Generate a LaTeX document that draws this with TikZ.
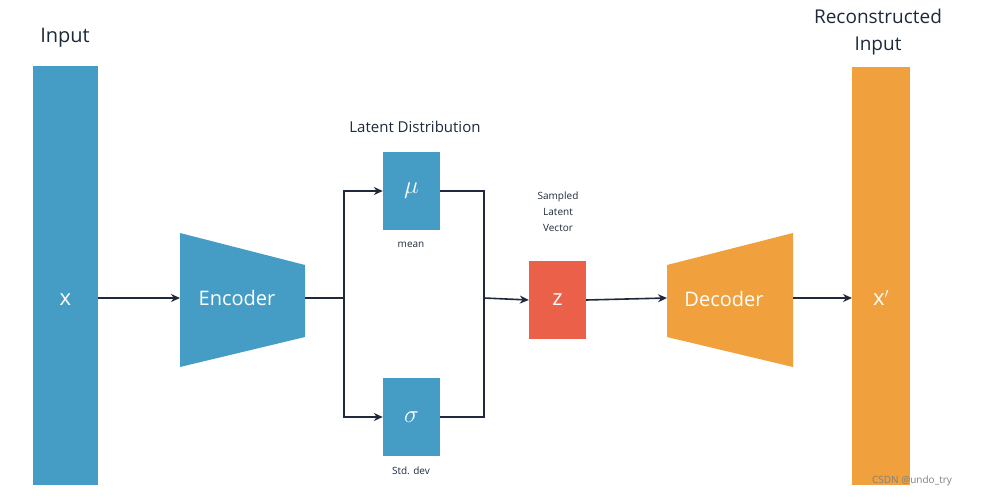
\documentclass[tikz,border=0pt]{standalone}
\usepackage{fontspec}
\setmainfont{Open Sans}
\usetikzlibrary{arrows.meta}
\definecolor{bl}{HTML}{459DC6}
\definecolor{org}{HTML}{F0A03C}
\definecolor{rd}{HTML}{EB6049}
\definecolor{ln}{HTML}{1E2A3A}
\begin{document}
\begin{tikzpicture}[x=1pt,y=-1pt,
  con/.style={draw=ln,line width=1.6pt},
  arr/.style={con,-{Stealth[length=9pt,width=8pt]}},
  wt/.style={text=white,font=\fontsize{22}{24}\selectfont},
  lbl/.style={text=ln,font=\fontsize{20}{24}\selectfont,align=center},
  sm/.style={text=ln,font=\fontsize{10}{13}\selectfont,align=center}]
\useasboundingbox (0,0) rectangle (981,498);
% bars
\fill[bl] (33,66) rectangle (98,485);
\node[wt] (x) at (65.5,300) {x};
\node[lbl] (inp) at (65,38) {Input};
\fill[org] (852,67) rectangle (910,485);
\node[wt] (xp) at (881,298) {x$'$};
\node[lbl,font=\fontsize{19}{27}\selectfont] (rec) at (878,32) {Reconstructed\\Input};
% encoder / decoder
\fill[bl] (180,233) -- (305,265) -- (305,337) -- (180,367) -- cycle;
\node[wt,font=\fontsize{20}{24}\selectfont] (enc) at (237,298) {Encoder};
\fill[org] (667,265) -- (793,233) -- (793,367) -- (667,337) -- cycle;
\node[wt,font=\fontsize{20}{24}\selectfont] (dec) at (724,299) {Decoder};
% latent boxes
\node[fill=bl,minimum width=57pt,minimum height=78pt,inner sep=0pt,text=white,font=\fontsize{24}{26}\selectfont] (mu) at (411.5,191) {$\mu$};
\node[fill=bl,minimum width=57pt,minimum height=78pt,inner sep=0pt,text=white,font=\fontsize{24}{26}\selectfont] (sg) at (411.5,417) {$\sigma$};
\node[fill=rd,minimum width=57pt,minimum height=78pt,inner sep=0pt,wt] (z) at (557.5,300) {z};
\node[lbl,font=\fontsize{15}{18}\selectfont] (ld) at (415,127) {Latent Distribution};
\node[sm] (mean) at (411,245) {mean};
\node[sm] (sd) at (411,471) {Std. dev};
\node[sm,font=\fontsize{10}{16}\selectfont] (slv) at (558,212) {Sampled\\Latent\\Vector};
\node[text=gray,font=\fontsize{10}{12}\selectfont] (wm) at (912,481) {CSDN @undo\_try};
% coordinates
\coordinate (encR) at (305,298);
\coordinate (decL) at (667,298);
\coordinate (decR) at (793,298);
\coordinate (br) at (344,298);
\coordinate (mg) at (484,298);
% connectors
\draw[arr] (98,298) -- (180,298);
\draw[con] (encR) -- (br);
\draw[arr] (br) |- (mu.west);
\draw[arr] (br) |- (sg.west);
\draw[con] (mu.east) -| (mg);
\draw[con] (sg.east) -| (mg);
\draw[arr] (mg) -- (z.west);
\draw[arr] (z.east) -- (decL);
\draw[arr] (decR) -- (852,298);
\end{tikzpicture}
\end{document}
